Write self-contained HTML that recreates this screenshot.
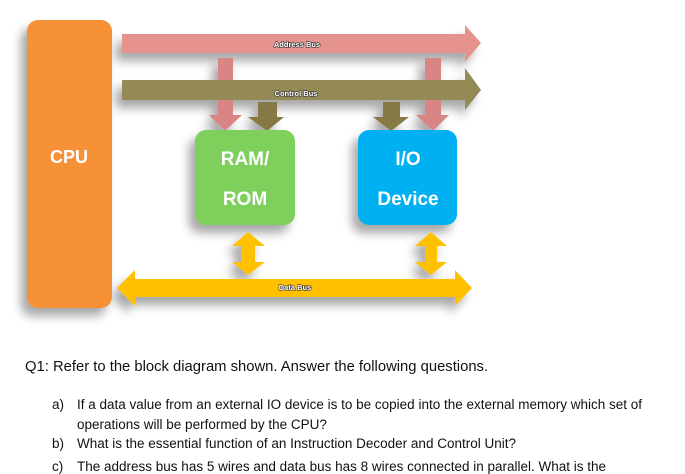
<!DOCTYPE html>
<html><head><style>
body{margin:0;width:685px;height:461px;overflow:hidden;background:#fff;font-family:"Liberation Sans",sans-serif;position:relative}
.t{position:absolute;font-family:"Liberation Sans",sans-serif;font-size:13.5px;color:#111;white-space:nowrap}
</style></head><body>
<svg width="685" height="340" style="position:absolute;left:0;top:0">
<defs>
<filter id="sh" x="-20%" y="-20%" width="150%" height="150%"><feGaussianBlur in="SourceAlpha" stdDeviation="5"/><feOffset dx="-6" dy="8"/><feComponentTransfer><feFuncA type="linear" slope="0.35"/></feComponentTransfer><feMerge><feMergeNode/><feMergeNode in="SourceGraphic"/></feMerge></filter>
</defs>
<g filter="url(#sh)">
<rect x="27" y="20" width="85" height="288" rx="11" fill="#f79137"/>
<polygon points="122,34 465,34 465,25 481,43 465,62 465,53 122,53" fill="#e6928f"/>
<polygon points="218,58 233,58 233,115 242,115 225,131 209,115 218,115" fill="#d98585"/>
<polygon points="425,58 441,58 441,115 449,115 433,131 416,115 425,115" fill="#d98585"/>
<polygon points="122,80 465,80 465,68 481,90 465,110 465,100 122,100" fill="#948a54"/>
<polygon points="258,102 277,102 277,117 284,117 267,131 248,117 258,117" fill="#857a45"/>
<polygon points="383,102 400,102 400,117 409,117 391,131 373,117 383,117" fill="#857a45"/>
<rect x="195" y="130" width="100" height="95" rx="11" fill="#7ecf5b"/>
<rect x="358" y="130" width="99" height="95" rx="11" fill="#00b0f0"/>
<polygon points="248,232 265,246 255,246 255,262 265,262 248,275 232,262 241,262 241,246 232,246" fill="#ffc000"/>
<polygon points="431,232 447,246 437,246 437,262 447,262 431,275 415,262 425,262 425,246 415,246" fill="#ffc000"/>
<polygon points="117,288 135,270 135,279 455,279 455,270 472,288 455,306 455,297 135,297 135,306" fill="#ffc000"/>
</g>
<g font-family="Liberation Sans,sans-serif" fill="#fff" font-weight="bold" text-anchor="middle">
<text x="69" y="163" font-size="18">CPU</text>
<text x="245" y="165" font-size="19">RAM/</text>
<text x="245" y="205" font-size="19">ROM</text>
<text x="408" y="165" font-size="19">I/O</text>
<text x="408" y="205" font-size="19">Device</text>
<g stroke="#333" stroke-width="1.2" paint-order="stroke">
<text x="297" y="47" font-size="7.5">Address Bus</text>
<text x="296" y="96" font-size="7.5">Control Bus</text>
<text x="295" y="290" font-size="7.5">Data Bus</text>
</g>
</g>
</svg>
<div class="t" style="left:25px;top:359px;font-size:14.8px">Q1: Refer to the block diagram shown. Answer the following questions.</div>
<div class="t" style="left:52px;top:397px">a)</div>
<div class="t" style="left:77px;top:397px">If a data value from an external IO device is to be copied into the external memory which set of</div>
<div class="t" style="left:77px;top:417px">operations will be performed by the CPU?</div>
<div class="t" style="left:52px;top:436px">b)</div>
<div class="t" style="left:77px;top:436px">What is the essential function of an Instruction Decoder and Control Unit?</div>
<div class="t" style="left:52px;top:459px">c)</div>
<div class="t" style="left:77px;top:459px">The address bus has 5 wires and data bus has 8 wires connected in parallel. What is the</div>
</body></html>
